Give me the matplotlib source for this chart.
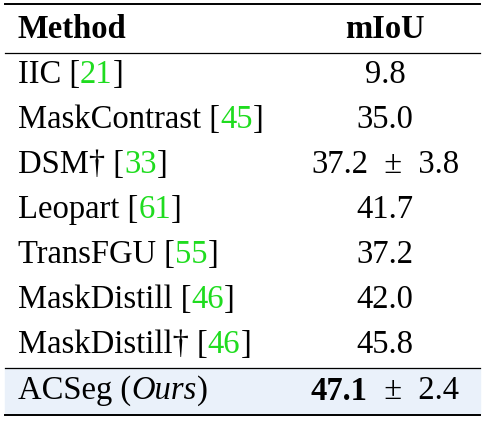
import matplotlib
matplotlib.use("Agg")
import matplotlib.pyplot as plt
from matplotlib.patches import Rectangle

methods = ["IIC", "MaskContrast", "DSM†", "Leopart", "TransFGU", "MaskDistill", "MaskDistill†", "ACSeg"]
refs = ["21", "45", "33", "61", "55", "46", "46", None]
miou = ["9.8", "35.0", "37.2", "41.7", "37.2", "42.0", "45.8", "47.1"]
std = [None, None, "3.8", None, None, None, None, "2.4"]

W, H = 485, 422
fig = plt.figure(figsize=(W/100, H/100), dpi=100)
ax = fig.add_axes([0, 0, 1, 1])
ax.set_xlim(0, W); ax.set_ylim(H, 0); ax.axis("off")
FONT = "Liberation Serif"
FS = 23.5
GREEN = "#1fdc1f"
fig.canvas.draw()
r = fig.canvas.get_renderer()

def width(s, **kw):
    t = ax.text(0, 0, s, fontsize=FS, family=FONT, **kw)
    bb = t.get_window_extent(r)
    t.remove()
    return bb.width

def draw(segs, x, y, center=False):
    ws = [width(s, **kw) for s, kw in segs]
    if center:
        x -= sum(ws) / 2
    for (s, kw), w in zip(segs, ws):
        ax.text(x, y, s, fontsize=FS, family=FONT, va="center", ha="left", **kw)
        x += w

ax.add_patch(Rectangle((5, 368), 475, 46, color="#eaf1fa", zorder=0))
ax.plot([5, 480], [4, 4], color="black", lw=1.4)
ax.plot([5, 480], [53, 53], color="black", lw=0.9)
ax.plot([5, 480], [368, 368], color="black", lw=0.9)
ax.plot([5, 480], [415, 415], color="black", lw=1.4)

cx = 385
draw([("Method", {"weight": "bold"})], 18, 30)
draw([("mIoU", {"weight": "bold"})], cx, 30, center=True)

ys = [75, 120, 165, 210, 255, 300, 345, 391]
for i, (m, rf, v, s) in enumerate(zip(methods, refs, miou, std)):
    y = ys[i]
    if rf is not None:
        draw([(m + " [", {}), (rf, {"color": GREEN}), ("]", {})], 18, y)
    else:
        draw([(m + " (", {}), ("Ours", {"style": "italic"}), (")", {})], 18, y)
    last = i == len(methods) - 1
    seg = [(v, {"weight": "bold"} if last else {})]
    if s:
        seg.append(("  ±  " + s, {}))
    draw(seg, cx, y, center=True)

fig.savefig("out.png", dpi=100)
